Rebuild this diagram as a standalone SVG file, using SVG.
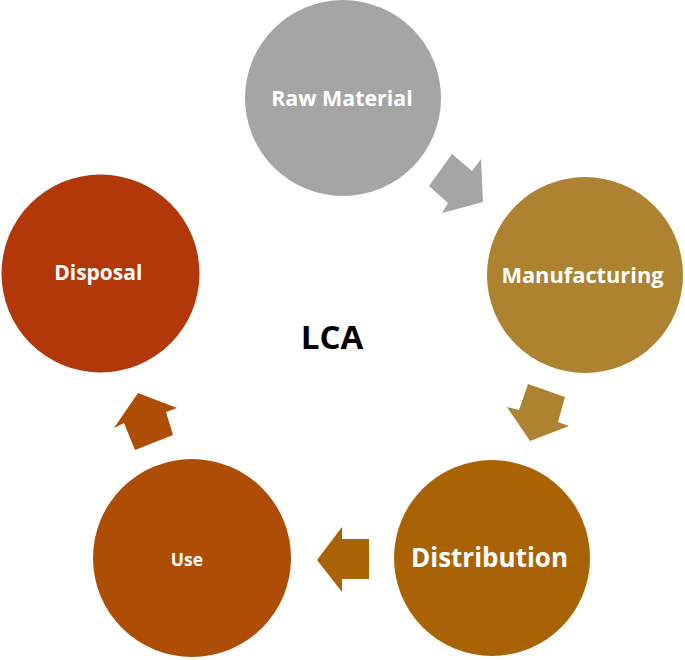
<svg xmlns="http://www.w3.org/2000/svg" width="685" height="660" viewBox="0 0 685 660">
<style>
.lbl{font-family:"Open Sans","Liberation Sans",sans-serif;font-weight:700;fill:#ffffff;text-anchor:middle}
.ctr{font-family:"Open Sans","Liberation Sans",sans-serif;font-weight:700;fill:#000000;text-anchor:middle}
</style>
<rect width="685" height="660" fill="#ffffff"/>
<g id="raw-material">
<circle cx="343" cy="98" r="98" fill="#a5a5a5"/>
<text class="lbl" x="342" y="106" font-size="21.4">Raw Material</text>
</g>
<g id="manufacturing">
<circle cx="585" cy="275" r="98" fill="#ad8332"/>
<text class="lbl" x="582.5" y="283" font-size="21.8">Manufacturing</text>
</g>
<g id="distribution">
<circle cx="492" cy="558" r="98" fill="#aa6304"/>
<text class="lbl" x="489.5" y="567" font-size="26">Distribution</text>
</g>
<g id="use">
<circle cx="192" cy="558" r="99" fill="#ae4e06"/>
<text class="lbl" x="187" y="566" font-size="17.5">Use</text>
</g>
<g id="disposal">
<circle cx="100.5" cy="273.5" r="99" fill="#b2380a"/>
<text class="lbl" x="98.3" y="280" font-size="21">Disposal</text>
</g>
<g id="lca">
<text class="ctr" x="332" y="349" font-size="33">LCA</text>
</g>
<g id="connectors">
<polygon points="452,154 472,171 481,159 483,202 442,213 448,203 429,186" fill="#a5a5a5"/>
<polygon points="528,384 565,397 558,422 569,426 530,441 507,407 519,410" fill="#ad8332"/>
<polygon points="317,560 342,527 342,539 369,539 369,579 342,579 342,592" fill="#aa6304"/>
<polygon points="138,393 177,408 166,412 173,435 135,450 124,423 114,428" fill="#ae4e06"/>
</g>
</svg>
